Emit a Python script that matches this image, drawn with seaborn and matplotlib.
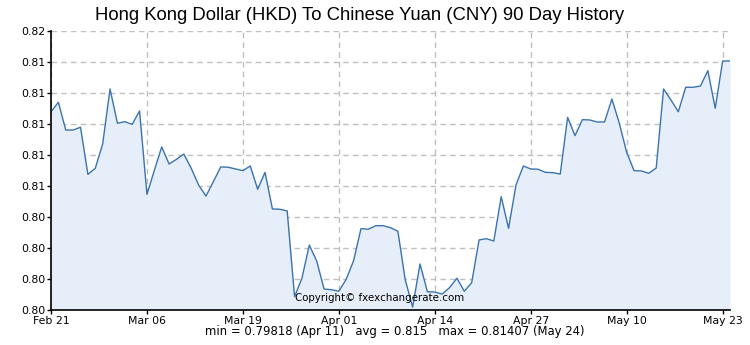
import numpy as np
import pandas as pd
import matplotlib
matplotlib.use("Agg")
import matplotlib.pyplot as plt
import seaborn as sns

# ---------------- data ----------------
start_date = "2015-02-21"
rates = [
    0.81079, 0.81140, 0.80961, 0.80961, 0.80979, 0.80675, 0.80714, 0.80871,
    0.81226, 0.81005, 0.81015, 0.80998, 0.81084, 0.80546, 0.80700, 0.80852,
    0.80742, 0.80772, 0.80806, 0.80714, 0.80606, 0.80535, 0.80628, 0.80723,
    0.80721, 0.80710, 0.80699, 0.80729, 0.80579, 0.80688, 0.80452, 0.80450,
    0.80439, 0.79886, 0.80005, 0.80219, 0.80116, 0.79935, 0.79931, 0.79921,
    0.79998, 0.80118, 0.80325, 0.80321, 0.80344, 0.80344, 0.80331, 0.80308,
    0.79994, 0.79818, 0.80097, 0.79918, 0.79916, 0.79903, 0.79944, 0.80005,
    0.79921, 0.79976, 0.80252, 0.80260, 0.80245, 0.80531, 0.80327, 0.80606,
    0.80729, 0.80710, 0.80708, 0.80688, 0.80686, 0.80677, 0.81043, 0.80925,
    0.81028, 0.81026, 0.81013, 0.81013, 0.81161, 0.81005, 0.80817, 0.80699,
    0.80697, 0.80682, 0.80716, 0.81226, 0.81155, 0.81079, 0.81237, 0.81237,
    0.81245, 0.81344, 0.81101, 0.81406, 0.81407,
]
dates = pd.date_range(start_date, periods=len(rates), freq="D")
x_tick_dates = ["2015-02-21", "2015-03-06", "2015-03-19", "2015-04-01",
                "2015-04-14", "2015-04-27", "2015-05-10", "2015-05-23"]
x_tick_labels = ["Feb 21", "Mar 06", "Mar 19", "Apr 01", "Apr 14", "Apr 27", "May 10", "May 23"]
y_ticks = [0.798, 0.800, 0.802, 0.804, 0.806, 0.808, 0.810, 0.812, 0.814, 0.816]
y_tick_labels = ["0.80", "0.80", "0.80", "0.80", "0.81", "0.81", "0.81", "0.81", "0.81", "0.82"]
title = "Hong Kong Dollar (HKD) To Chinese Yuan (CNY) 90 Day History"
stats_text = "min = 0.79818 (Apr 11)   avg = 0.815   max = 0.81407 (May 24)"
copyright_text = "Copyright\u00a9 fxexchangerate.com"

df = pd.DataFrame({"date": dates, "rate": rates})

# ---------------- plot ----------------
sns.set_style("white")
plt.rcParams["font.family"] = ["DejaVu Sans"]

fig = plt.figure(figsize=(7.5, 3.45), dpi=100)
ax = fig.add_axes([51/750, 1-310/345, (730-51)/750, (310-31)/345])

line_color = "#3a73ad"
fill_color = "#e6eef9"

ax.fill_between(df["date"], df["rate"], y_ticks[0], color=fill_color, lw=0, zorder=1)
sns.lineplot(data=df, x="date", y="rate", ax=ax, color=line_color, lw=1.0, zorder=3)

ax.set_xlim(dates[0], dates[-1])
ax.set_ylim(y_ticks[0], y_ticks[-1])
ax.set_yticks(y_ticks)
ax.set_yticklabels(y_tick_labels)
ax.set_xticks(pd.to_datetime(x_tick_dates))
ax.set_xticklabels(x_tick_labels)

ax.grid(True, color="#c0c0c0", linestyle=(0, (4, 3)), lw=1.0)
for gl in ax.get_xgridlines() + ax.get_ygridlines():
    gl.set_zorder(2)

for s in ["top", "right"]:
    ax.spines[s].set_visible(False)
for s in ["left", "bottom"]:
    ax.spines[s].set_color("black")
    ax.spines[s].set_linewidth(1.2)
    ax.spines[s].set_zorder(4)

ax.tick_params(axis="both", direction="out", length=3, width=1, color="black",
               labelsize=7.8, labelcolor="black", pad=1, left=True, bottom=True)
ax.set_xlabel("")
ax.set_ylabel("")

fig.text(360/750, 1-16/345, title, ha="center", va="center", fontsize=13.3,
         family="Liberation Sans", color="black")
fig.text(395/750, 1-332/345, stats_text, ha="center", va="center", fontsize=8.4,
         color="black")
fig.text(380/750, 1-298/345, copyright_text, ha="center", va="center", fontsize=7.4,
         color="black", zorder=5)

fig.savefig("out.png", dpi=100)
